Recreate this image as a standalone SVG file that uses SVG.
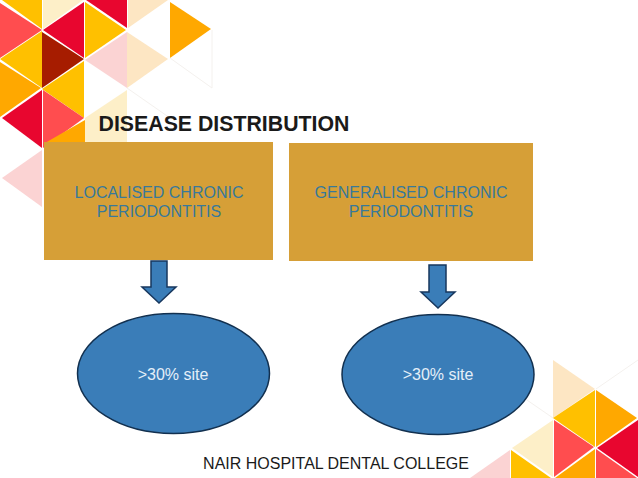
<svg xmlns="http://www.w3.org/2000/svg" width="638" height="478" viewBox="0 0 638 478">
<style>
.yl{fill:#FFC000}.or{fill:#FFA800}.cr{fill:#E8062F}.co{fill:#FF4D4F}.dk{fill:#A61C00}.pk{fill:#FBD3D3}.pe{fill:#FDE6C3}.ce{fill:#FDEFC8}
.faint{fill:none;stroke:#F4F1EE;stroke-width:1}
.box{fill:#D69F37}
.ell{fill:#3A7DB8;stroke:#12304F;stroke-width:1.5}
.arr{fill:#3A7DB8;stroke:#17375E;stroke-width:1.5}
text{font-family:"Liberation Sans",Arial,sans-serif;font-size:16px;text-anchor:middle}
.lbl{fill:#38799A}
.in{fill:#E4EFF9}
</style>
<rect width="638" height="478" fill="#FFFFFF"/>
<g id="decor-top-left">
<polygon class="co" points="0,3 42,30 0,58"/>
<polygon class="yl" points="2,0 42,0 42,29"/>
<polygon class="ce" points="43,0 83,0 43,29"/>
<polygon class="cr" points="43,30 84,2 84,58"/>
<polygon class="cr" points="86,0 127,0 127,28"/>
<polygon class="pe" points="128,0 168,0 128,28"/>
<polygon class="yl" points="85,2 126,30 85,58"/>
<polygon class="or" points="170,2 211,29 170,58"/>
<polygon class="dk" points="42,32 84,59 42,88"/>
<polygon class="yl" points="0,59 42,31 42,88"/>
<polygon class="or" points="0,62 41,88 0,117"/>
<polygon class="yl" points="42,89 84,61 84,118"/>
<polygon class="cr" points="2,118 42,90 42,148"/>
<polygon class="co" points="43,90 84,118 43,148"/>
<polygon class="or" points="45,143 85,120 85,143"/>
<polygon class="pk" points="85,60 127,32 127,88"/>
<polygon class="pe" points="127,32 168,59 127,88"/>
<polygon class="ce" points="85,118 127,90 127,143 85,143"/>
<polygon class="pk" points="2,178 42,150 42,207"/>
<path class="faint" d="M170,58 L212,88 L212,30 M127,88 L170,118"/>
</g>
<g id="decor-bottom-right">
<polygon class="pe" points="553,360 595,389 553,418"/>
<polygon class="yl" points="553,418 595,390 595,447"/>
<polygon class="or" points="596,390 637,418 596,447"/>
<polygon class="ce" points="512,448 553,420 553,477"/>
<polygon class="co" points="554,420 594,447 554,477"/>
<polygon class="cr" points="597,448 638,420 638,477"/>
<polygon class="pk" points="470,478 510,450 510,478"/>
<polygon class="yl" points="511,450 551,478 511,478"/>
<polygon class="or" points="555,478 595,449 595,478"/>
<polygon class="co" points="596,449 637,478 596,478"/>
<path class="faint" d="M596,389 L638,360 M553,418 L511,389"/>
</g>
<text x="224" y="131" style="font-size:21.300px;font-weight:bold;fill:#1A1A1A">DISEASE DISTRIBUTION</text>
<g id="node-localised">
<rect class="box" x="44" y="142" width="229" height="118"/>
<text class="lbl" x="159" y="198">LOCALISED CHRONIC</text>
<text class="lbl" x="159" y="217">PERIODONTITIS</text>
</g>
<g id="node-generalised">
<rect class="box" x="289" y="143" width="244" height="118"/>
<text class="lbl" x="411" y="198">GENERALISED CHRONIC</text>
<text class="lbl" x="411" y="217">PERIODONTITIS</text>
</g>
<g id="connectors">
<polygon class="arr" points="151,261 167,261 167,287 176,287 159,303 142,287 151,287"/>
<polygon class="arr" points="429,265 446,265 446,292 455,292 438,308 421,292 429,292"/>
</g>
<g id="node-site-left">
<ellipse class="ell" cx="173.500" cy="373.500" rx="96" ry="60"/>
<text class="in" x="173" y="380">&gt;30% site</text>
</g>
<g id="node-site-right">
<ellipse class="ell" cx="438" cy="374.500" rx="96" ry="60"/>
<text class="in" x="438" y="380">&gt;30% site</text>
</g>
<text x="336" y="469" style="fill:#1A1A1A">NAIR HOSPITAL DENTAL COLLEGE</text>
</svg>
